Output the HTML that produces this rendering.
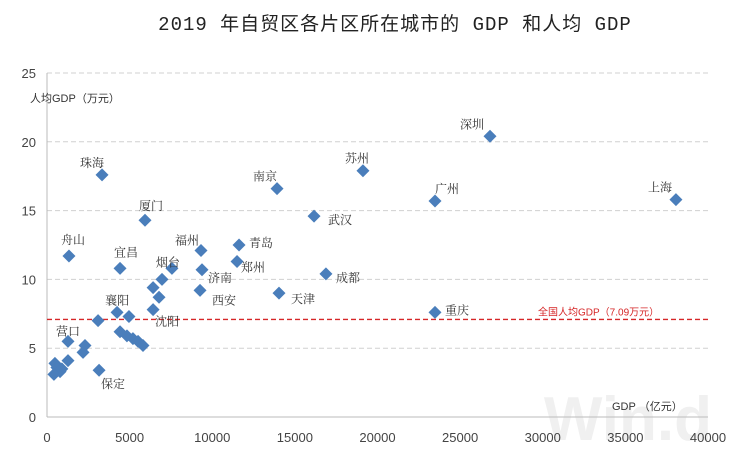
<!DOCTYPE html>
<html><head><meta charset="utf-8"><style>
body{margin:0;background:#fff;width:748px;height:469px;overflow:hidden;font-family:"Liberation Sans","Noto Sans CJK SC",sans-serif}
</style></head><body>
<svg id="c" width="748" height="469" style="position:absolute;left:0;top:0"></svg>
<script>
const names=["深圳","上海","广州","重庆","苏州","南京","武汉","成都","天津","青岛","郑州","福州","济南","西安","珠海","厦门","舟山","宜昌","烟台","","","","沈阳","襄阳","","","","","","","","营口","","","","","","","","","保定"];
const gdp=[26808,38060,23480,23480,19120,13920,16160,16880,14040,11620,11500,9320,9380,9260,3330,5930,1330,4420,7560,6960,6420,6780,6420,4240,4960,3090,4420,4840,5200,5510,5810,1270,2180,2300,1270,480,600,790,420,900,3150];
const pcgdp=[20.4,15.8,15.7,7.6,17.9,16.6,14.6,10.4,9.0,12.5,11.3,12.1,10.7,9.2,17.6,14.3,11.7,10.8,10.8,10.0,9.4,8.7,7.8,7.6,7.3,7.0,6.2,5.9,5.7,5.5,5.2,5.5,4.7,5.2,4.1,3.9,3.6,3.3,3.1,3.5,3.4];
const labOff=[[-30,-12],[-28,-12],[0,-12],[10,-2],[-18,-12],[-24,-12],[14,4],[10,4],[12,6],[10,-2],[4,6],[-26,-10],[6,8],[12,10],[-22,-12],[-6,-14],[-8,-16],[-6,-16],[-16,-6],[0,0],[0,0],[0,0],[2,12],[-12,-12],[0,0],[0,0],[0,0],[0,0],[0,0],[0,0],[2,12],[-12,-10],[0,0],[0,0],[0,0],[0,0],[0,0],[0,0],[0,0],[0,0],[2,14]];
const xTicks=[0,5000,10000,15000,20000,25000,30000,35000,40000];
const yTicks=[0,5,10,15,20,25];
const avg=7.09;
const NS="http://www.w3.org/2000/svg",svg=document.getElementById('c');
const X=v=>47+v*661/40000, Y=v=>417-v*344/25;
function mk(t,a,txt){const e=document.createElementNS(NS,t);for(const k in a)e.setAttribute(k,a[k]);if(txt!=null)e.textContent=txt;svg.appendChild(e);return e;}
let e=mk('text',{x:395,y:30,'text-anchor':'middle','font-size':19,'letter-spacing':1,fill:'#222','font-family':'"Liberation Mono","Noto Sans CJK SC",monospace'},'2019 年自贸区各片区所在城市的 GDP 和人均 GDP');

e=mk('text',{x:712,y:440,'text-anchor':'end','font-size':62,'font-weight':'bold',fill:'#f0f0f0'},'Win.d');

yTicks.forEach(t=>{if(t>0){e=mk('line',{x1:47,x2:708,y1:Y(t),y2:Y(t),stroke:'#d0d0d0','stroke-dasharray':'5,3'});}
e=mk('text',{x:36,y:Y(t)+5,'text-anchor':'end','font-size':13,fill:'#444'},t);});
xTicks.forEach(t=>{e=mk('text',{x:X(t),y:442,'text-anchor':'middle','font-size':13,fill:'#444'},t);});
e=mk('line',{x1:47,x2:47,y1:Y(25),y2:417,stroke:'#bbb'});
e=mk('line',{x1:47,x2:708,y1:417,y2:417,stroke:'#bbb'});
e=mk('text',{x:30,y:102,'font-size':11,fill:'#333'},'人均GDP（万元）');
e=mk('text',{x:612,y:410,'font-size':11,fill:'#333'},'GDP （亿元）');
e=mk('line',{x1:47,x2:708,y1:Y(avg),y2:Y(avg),stroke:'#d62728','stroke-width':1.3,'stroke-dasharray':'5,3'});
e=mk('text',{x:538,y:Y(avg)-4,'font-size':10,fill:'#d62728'},'全国人均GDP（'+avg+'万元）');
gdp.forEach((g,i)=>{const x=X(g),y=Y(pcgdp[i]);
e=mk('polygon',{points:`${x},${y-6.5} ${x+6.5},${y} ${x},${y+6.5} ${x-6.5},${y}`,fill:'#4a7ebb'});

if(names[i]){e=mk('text',{x:x+labOff[i][0],y:y+labOff[i][1]+4,'font-size':12,fill:'#333','font-family':'"Noto Serif CJK SC",serif'},names[i]);
}});
</script>
</body></html>
